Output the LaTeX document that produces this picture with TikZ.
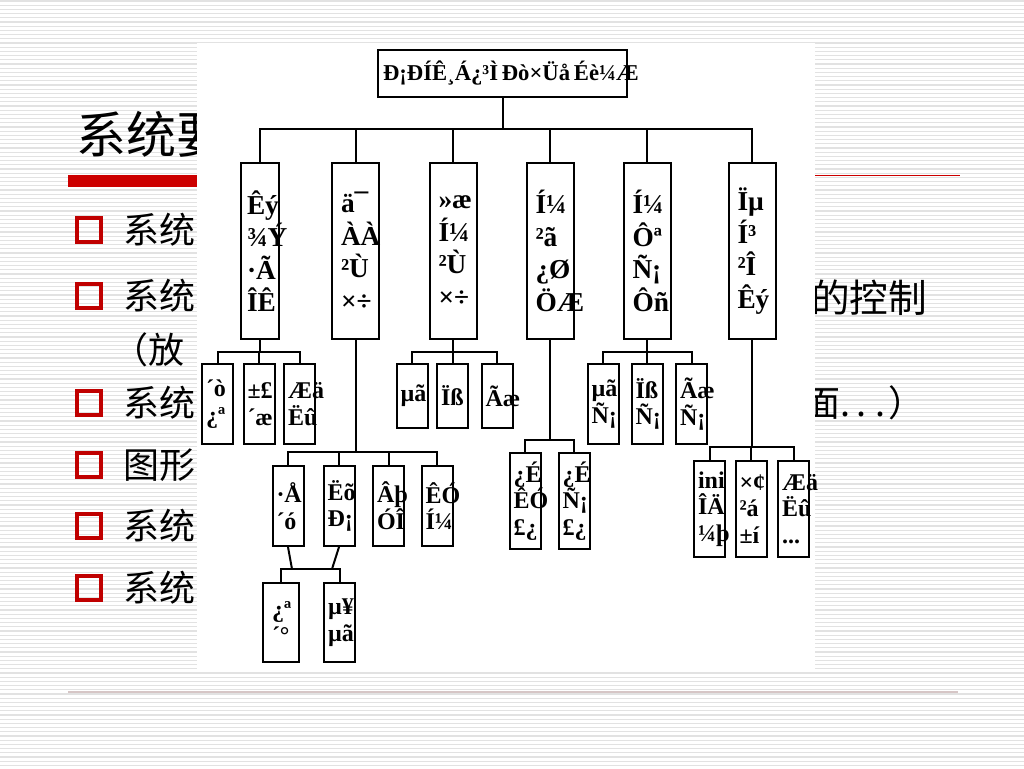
\documentclass[tikz,border=0pt]{standalone}
\usepackage{fontspec}
\setmainfont{Liberation Serif}
\newfontfamily\cjk{Noto Sans CJK SC}
\definecolor{bred}{RGB}{192,0,0}
\definecolor{tred}{RGB}{204,0,0}
\definecolor{stripe}{RGB}{226,226,226}
\definecolor{foot}{RGB}{214,198,198}
\begin{document}
\begin{tikzpicture}[x=0.75pt,y=-0.75pt,
  conn/.style={line width=1.5pt},
  lone/.style={draw, line width=1.5pt, inner ysep=0pt, minimum height=132pt, inner xsep=6.75pt, text width=21.75pt, align=flush left, font=\bfseries\fontsize{20.5}{24.4}\selectfont},
  ltwo/.style={draw, line width=1.5pt, inner ysep=0pt, inner xsep=3pt, text width=17.25pt, align=flush left, font=\bfseries\fontsize{18}{20}\selectfont},
  rootbox/.style={draw, line width=1.3pt, inner ysep=0pt, inner xsep=3.75pt, minimum height=35.25pt, text width=179.25pt, align=flush left, font=\bfseries\fontsize{17}{20}\selectfont},
  cjktxt/.style={anchor=west, inner sep=0pt, font=\cjk\fontsize{27}{30}\selectfont},
  bsq/.style={draw=bred, line width=3pt, minimum size=18pt, inner sep=0pt},
]
\useasboundingbox (0,0) rectangle (1024,768);
% slide background
\fill[white] (0,0) rectangle (1024,768);
\foreach \k in {0,...,182} \draw[stripe, line width=1pt] (0,{\k*4.2+1}) -- (1024,{\k*4.2+1});
\fill[tred] (68,175) rectangle (198,187);
\draw[tred, line width=1.1pt] (800,175.5) -- (960,175.5);
\draw[foot, line width=0.9pt] (68,692) -- (958,692);
% title and bullets
\node[anchor=west, inner sep=0pt, font=\cjk\fontsize{37.5}{40}\selectfont] (title) at (76,134) {系统要};
\node[bsq] (s1) at (89,230) {};
\node[bsq] (s2) at (89,296) {};
\node[bsq] (s3) at (89,403) {};
\node[bsq] (s4) at (89,465) {};
\node[bsq] (s5) at (89,526) {};
\node[bsq] (s6) at (89,588) {};
\node[cjktxt] (t1) at (123,230) {系统};
\node[cjktxt] (t2) at (123,296) {系统};
\node[cjktxt] (t2b) at (112,350) {（放};
\node[cjktxt] (t3) at (123,403) {系统};
\node[cjktxt] (t4) at (123,465) {图形};
\node[cjktxt] (t5) at (123,526) {系统};
\node[cjktxt] (t6) at (123,588) {系统};
\node[cjktxt, font=\cjk\fontsize{29}{30}\selectfont] (r2) at (811,298) {的控制};
\node[cjktxt] (r3) at (804,403) {面.\kern5pt.\kern6.5pt.\kern2pt）};
% picture area
\fill[white] (197,43) rectangle (815,669);
% tree
\node[rootbox] (root) at (502.5,73.5) {Ð¡ÐÍÊ¸Á¿³Ì~Ðò×Üå~Éè¼Æ};
\node[lone, inner xsep=4.5pt, text width=19.5pt] (A) at (260,251) {Êý\\¾Ý\\·Ã\\ÎÊ};
\node[lone] (B) at (355.5,251) {ä¯\\ÀÀ\\²Ù\\×÷};
\node[lone] (C) at (453,251) {»æ\\Í¼\\²Ù\\×÷};
\node[lone] (D) at (550,251) {Í¼\\²ã\\¿Ø\\ÖÆ};
\node[lone] (E) at (647,251) {Í¼\\Ôª\\Ñ¡\\Ôñ};
\node[lone] (F) at (752,251) {Ïµ\\Í³\\²Î\\Êý};
\foreach \c in {A,B,C,D,E,F} \draw[conn] (\c.north) -- ++(0,-33) -| (root.south);
% under A
\node[ltwo, minimum height=60pt] (A1) at (217.5,404) {´ò\\¿ª};
\node[ltwo, minimum height=60pt] (A2) at (259,404) {±£\\´æ};
\node[ltwo, minimum height=60pt] (A3) at (299.5,404) {Æä\\Ëû};
\foreach \c in {A1,A2,A3} \draw[conn] (\c.north) -- ++(0,-11) -| (A.south);
% under C
\node[ltwo, minimum height=48pt] (C1) at (412,396) {µã};
\node[ltwo, minimum height=48pt] (C2) at (452.5,396) {Ïß};
\node[ltwo, minimum height=48pt] (C3) at (497,396) {Ãæ};
\foreach \c in {C1,C2,C3} \draw[conn] (\c.north) -- ++(0,-11) -| (C.south);
% under E
\node[ltwo, minimum height=60pt] (E1) at (603,404) {µã\\Ñ¡};
\node[ltwo, minimum height=60pt] (E2) at (647,404) {Ïß\\Ñ¡};
\node[ltwo, minimum height=60pt] (E3) at (691.5,404) {Ãæ\\Ñ¡};
\foreach \c in {E1,E2,E3} \draw[conn] (\c.north) -- ++(0,-11) -| (E.south);
% under B
\node[ltwo, minimum height=60pt] (B1) at (288,506) {·Å\\´ó};
\node[ltwo, minimum height=60pt] (B2) at (339,506) {Ëõ\\Ð¡};
\node[ltwo, minimum height=60pt] (B3) at (388.5,506) {Âþ\\ÓÎ};
\node[ltwo, minimum height=60pt] (B4) at (437,506) {ÊÓ\\Í¼};
\foreach \c in {B1,B2,B3,B4} \draw[conn] (\c.north) -- ++(0,-13) -| (B.south);
% under D
\node[ltwo, minimum height=72pt] (D1) at (525,501) {¿É\\ÊÓ\\£¿};
\node[ltwo, minimum height=72pt] (D2) at (574,501) {¿É\\Ñ¡\\£¿};
\foreach \c in {D1,D2} \draw[conn] (\c.north) -- ++(0,-12) -| (D.south);
% under F
\node[ltwo, minimum height=72pt] (F1) at (709.5,509) {ini\\ÎÄ\\¼þ};
\node[ltwo, minimum height=72pt] (F2) at (751,509) {×¢\\²á\\±í};
\node[ltwo, minimum height=72pt] (F3) at (793.5,509) {Æä\\Ëû\\...};
\foreach \c in {F1,F2,F3} \draw[conn] (\c.north) -- ++(0,-13) -| (F.south);
% bottom pair
\node[ltwo, minimum height=59.25pt, inner xsep=6.75pt, text width=13.5pt] (G1) at (281,622.5) {¿ª\\´°};
\node[ltwo, minimum height=59.25pt] (G2) at (339.5,622.5) {µ¥\\µã};
\coordinate (j1) at (292,569);
\coordinate (j2) at (332,569);
\draw[conn] (B1.south) -- (j1);
\draw[conn] (B2.south) -- (j2);
\draw[conn] (G1.north) |- (j2);
\draw[conn] (G2.north) |- (j1);
\end{tikzpicture}
\end{document}
